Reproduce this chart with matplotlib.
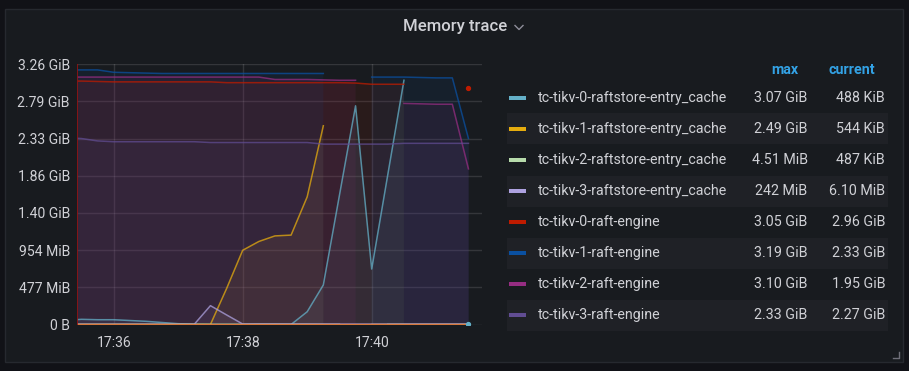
import numpy as np
import pandas as pd
import matplotlib
matplotlib.use('Agg')
import matplotlib.pyplot as plt
import matplotlib.dates as mdates
from matplotlib.patches import Rectangle
from matplotlib.lines import Line2D

plt.rcParams['font.family'] = ['Roboto', 'DejaVu Sans']

nan = np.nan
W, H = 909, 371

# samples every 15s (values in GiB)
times = pd.date_range('2023-05-10 17:35:15', periods=26, freq='15s')

names = ['tc-tikv-0-raftstore-entry_cache', 'tc-tikv-1-raftstore-entry_cache',
         'tc-tikv-2-raftstore-entry_cache', 'tc-tikv-3-raftstore-entry_cache',
         'tc-tikv-0-raft-engine', 'tc-tikv-1-raft-engine',
         'tc-tikv-2-raft-engine', 'tc-tikv-3-raft-engine']
colors = ['#64B0C8', '#E5AC0E', '#B7DBAB', '#AEA2E0',
          '#BF1B00', '#0A50A1', '#962D82', '#614D93']
max_vals = ['3.07 GiB', '2.49 GiB', '4.51 MiB', '242 MiB',
            '3.05 GiB', '3.19 GiB', '3.10 GiB', '2.33 GiB']
cur_vals = ['488 KiB', '544 KiB', '487 KiB', '6.10 MiB',
            '2.96 GiB', '2.33 GiB', '1.95 GiB', '2.27 GiB']

entry0 = [0.05, 0.065, 0.06, 0.06, 0.05, 0.04, 0.025, 0.01, 0.005, 0, 0, 0, 0,
          0, 0, 0.16, 0.495, 1.62, 2.74, 0.695, 1.88, 3.06, nan, nan, nan, 0.0005]
entry1 = [0.0003, 0.0003, 0.0003, 0.0003, 0.0003, 0.0003, 0.0003, 0.0003, 0.0003,
          0.0003, 0.45, 0.93, 1.04, 1.11, 1.12, 1.60, 2.49, nan, nan,
          0.0005, 0.0005, 0.0005, 0.0005, 0.0005, 0.0005, 0.0005]
entry2 = [0.002, 0.002, 0.002, 0.002, 0.002, 0.002, 0.002, 0.002, 0.002, 0.003,
          0.003, 0.003, 0.0044, 0.004, 0.003, 0.003, 0.002, 0.002, nan, nan,
          0.0005, 0.0005, 0.0005, 0.0005, 0.0005, 0.0005]
entry3 = [0.003, 0.003, 0.003, 0.003, 0.003, 0.003, 0.003, 0.003, 0.003, 0.236,
          0.12, 0.006, 0.006, 0.006, 0.006, 0.006, 0.006, 0.006, 0.006, 0.006,
          0.006, 0.006, 0.006, 0.006, 0.006, 0.006]
engine0 = [3.05, 3.05, 3.045, 3.04, 3.04, 3.04, 3.04, 3.04, 3.04, 3.04, 3.03, 3.03,
           3.03, 3.03, 3.03, 3.03, 3.03, 3.03, 3.025, 3.01, 3.01, 3.01,
           nan, nan, nan, 2.96]
engine1 = [3.19, 3.19, 3.19, 3.16, 3.155, 3.15, 3.145, 3.145, 3.145, 3.145, 3.145,
           3.145, 3.145, 3.145, 3.145, 3.145, 3.145, nan, nan,
           3.10, 3.10, 3.10, 3.095, 3.09, 3.09, 2.33]
engine2 = [3.10, 3.10, 3.10, 3.10, 3.10, 3.10, 3.10, 3.10, 3.10, 3.10, 3.10, 3.10,
           3.10, 3.07, 3.07, 3.07, 3.065, 3.06, 3.06, nan, nan,
           2.77, 2.765, 2.76, 2.76, 1.95]
engine3 = [2.34, 2.33, 2.30, 2.29, 2.29, 2.29, 2.29, 2.29, 2.29, 2.28, 2.28, 2.28,
           2.28, 2.28, 2.28, 2.28, 2.26, 2.26, 2.26, 2.26, 2.26, 2.27, 2.27, 2.27,
           2.27, 2.27]
series = [entry0, entry1, entry2, entry3, engine0, engine1, engine2, engine3]

y_ticks = [0, 0.4657, 0.9314, 1.3971, 1.8629, 2.3286, 2.7943, 3.26]
y_labels = ['0 B', '477 MiB', '954 MiB', '1.40 GiB', '1.86 GiB', '2.33 GiB',
            '2.79 GiB', '3.26 GiB']

fig = plt.figure(figsize=(W / 100, H / 100), dpi=100)
fig.patch.set_facecolor('#111217')

def fx(x):
    return x / W

def fy(y):
    return 1 - y / H

txt = '#d0d1d6'

# panel
fig.add_artist(Rectangle((fx(5), fy(362)), fx(898), 353 / H, transform=fig.transFigure,
                         facecolor='#181b1f', edgecolor='#26292f', lw=1, zorder=0))
fig.text(fx(455), fy(26), 'Memory trace', ha='center', va='center', fontsize=12.1,
         color=txt, fontweight='medium')
fig.add_artist(Line2D([fx(515), fx(519), fx(523)], [fy(25.5), fy(29.5), fy(25.5)],
                      transform=fig.transFigure, color='#8e8e9a', lw=1))
# resize handle
fig.add_artist(Line2D([fx(893), fx(899), fx(899)], [fy(358), fy(358), fy(352)],
                      transform=fig.transFigure, color='#6e6e78', lw=1))

ax = fig.add_axes([fx(76.7), fy(324.5), fx(482 - 76.7), (324.5 - 64.3) / H])
ax.set_facecolor('none')

t = mdates.date2num(times.to_pydatetime())
for vals, c in zip(series, colors):
    v = np.array(vals, dtype=float)
    ax.fill_between(t, 0, v, color=c, alpha=0.1, lw=0, zorder=1)
    ax.plot(t, v, color=c, lw=1.1, alpha=0.75, zorder=3)
    for i in range(len(v)):
        left = np.isnan(v[i - 1]) if i > 0 else True
        right = np.isnan(v[i + 1]) if i < len(v) - 1 else True
        if not np.isnan(v[i]) and left and right:
            ax.plot(t[i], v[i], 'o', color=c, ms=2.8, zorder=4)

# baseline where the near-zero caches overlap
ax.hlines(0, t[0], t[-1], color='#d8773a', lw=1.6, zorder=3.5)

x0 = mdates.date2num(pd.Timestamp('2023-05-10 17:35:25.6'))
x1 = mdates.date2num(pd.Timestamp('2023-05-10 17:41:42.6'))
ax.set_xlim(x0, x1)
ax.set_ylim(0, 3.26)
ax.axvline(x0, color='#8c1414', lw=1.3, zorder=5)

ax.set_yticks(y_ticks)
ax.set_yticklabels(y_labels)
ax.xaxis.set_major_locator(mdates.MinuteLocator(byminute=[36, 38, 40]))
ax.xaxis.set_major_formatter(mdates.DateFormatter('%H:%M'))
ax.tick_params(length=0, colors=txt, labelsize=10.1)
ax.tick_params(axis='y', pad=5)
ax.tick_params(axis='x', pad=8)
ax.grid(True, color='#ffffff', alpha=0.12, lw=1)
ax.set_axisbelow(True)
for s in ax.spines.values():
    s.set_visible(False)

# legend table
fig.text(fx(785), fy(69.5), 'max', ha='center', va='center', fontsize=10.3,
         color='#33a2e5', fontweight='bold')
fig.text(fx(852), fy(69.5), 'current', ha='center', va='center', fontsize=10.3,
         color='#33a2e5', fontweight='bold')
for i, (n, c, mx, cur) in enumerate(zip(names, colors, max_vals, cur_vals)):
    yc = 98 + i * 31
    if i % 2 == 1:
        fig.add_artist(Rectangle((fx(507), fy(yc + 15.5)), fx(381), 31 / H,
                                 transform=fig.transFigure, facecolor='#1f2126',
                                 edgecolor='none', zorder=0.5))
    fig.add_artist(Rectangle((fx(509), fy(yc + 2)), fx(17), 4 / H,
                             transform=fig.transFigure, facecolor=c, edgecolor='none'))
    fig.text(fx(538), fy(yc), n, ha='left', va='center', fontsize=10.3, color=txt)
    fig.text(fx(807.5), fy(yc), mx, ha='right', va='center', fontsize=10.3, color=txt)
    fig.text(fx(885), fy(yc), cur, ha='right', va='center', fontsize=10.3, color=txt)

fig.savefig('out.png', dpi=100, facecolor=fig.get_facecolor())
